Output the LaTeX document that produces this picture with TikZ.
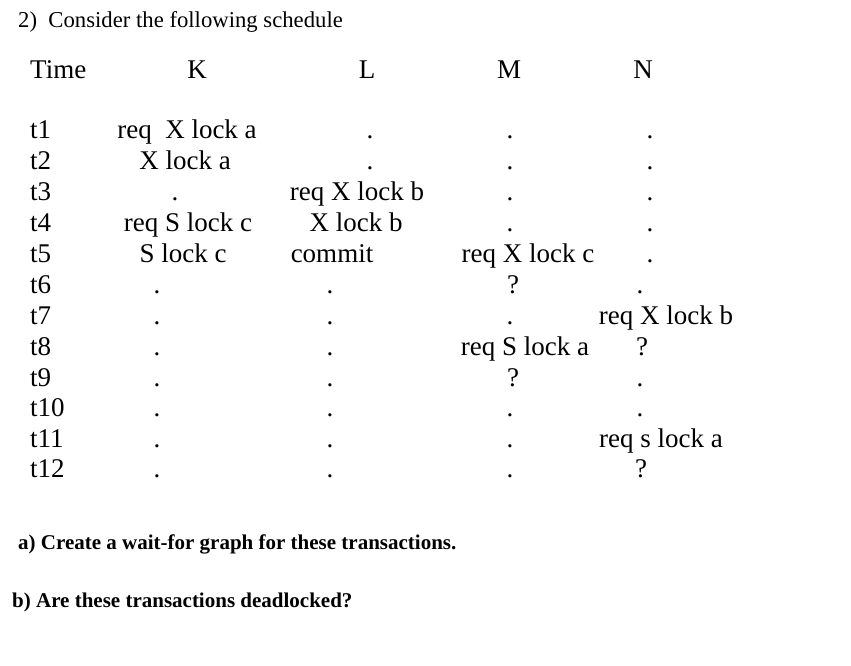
\documentclass[tikz,border=0pt]{standalone}
\usepackage{fontspec}
\setmainfont{Liberation Serif}
\begin{document}
\begin{tikzpicture}[x=1pt,y=-1pt,
  t/.style={anchor=base,inner sep=0pt,font=\fontsize{27}{30}\selectfont},
  tl/.style={anchor=base west,inner sep=0pt,font=\fontsize{27}{30}\selectfont},
  ti/.style={anchor=base west,inner sep=0pt,font=\fontsize{22.7}{26}\selectfont},
  q/.style={anchor=base west,inner sep=0pt,font=\bfseries\fontsize{21}{24}\selectfont}]
\useasboundingbox[fill=white] (0,0) rectangle (851,665);
\node[ti] (title) at (18,27) {2)\ \ Consider the following schedule};
\node[tl] (time) at (30,78) {Time};
\node[t] (hK) at (197,78) {K};
\node[t] (hL) at (367,78) {L};
\node[t] (hM) at (509,78) {M};
\node[t] (hN) at (643,78) {N};
\foreach \i/\y in {1/138,2/169,3/200,4/231,5/262,6/293,7/324,8/355,9/386,10/416,11/447,12/477}
  \node[tl] (r\i) at (30,\y) {t\i};
% K
\node[t] (k1) at (187,138) {req\ \ X lock a};
\node[t] (k2) at (185,169) {X lock a};
\node[t] (k3) at (175,200) {.};
\node[t] (k4) at (188,231) {req S lock c};
\node[t] (k5) at (183,262) {S lock c};
\foreach \y in {293,324,355,386,416,447,477} \node[t] at (157,\y) {.};
% L
\node[t] (l1) at (370,138) {.};
\node[t] (l2) at (370,169) {.};
\node[t] (l3) at (357,200) {req X lock b};
\node[t] (l4) at (356,231) {X lock b};
\node[t] (l5) at (332,262) {commit};
\foreach \y in {293,324,355,386,416,447,477} \node[t] at (330,\y) {.};
% M
\foreach \y in {138,169,200,231} \node[t] at (510,\y) {.};
\node[t] (m5) at (528,262) {req X lock c};
\node[t] (m6) at (513,293) {?};
\node[t] (m7) at (510,324) {.};
\node[t] (m8) at (525,355) {req S lock a};
\node[t] (m9) at (513,386) {?};
\foreach \y in {416,447,477} \node[t] at (510,\y) {.};
% N
\foreach \y in {138,169,200,231,262} \node[t] at (650,\y) {.};
\node[t] (n6) at (640,293) {.};
\node[t] (n7) at (666,324) {req X lock b};
\node[t] (n8) at (642,355) {?};
\node[t] (n9) at (640,386) {.};
\node[t] (n10) at (640,416) {.};
\node[t] (n11) at (661,447) {req s lock a};
\node[t] (n12) at (641,477) {?};
\node[q] (qa) at (18,549) {a) Create a wait-for graph for these transactions.};
\node[q] (qb) at (12,607) {b) Are these transactions deadlocked?};
\end{tikzpicture}
\end{document}
